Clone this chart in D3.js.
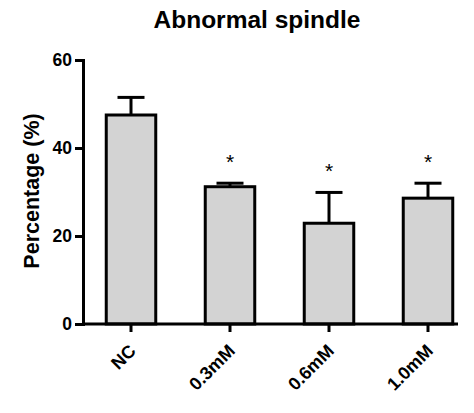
<!DOCTYPE html>
<html>
<head>
<meta charset="utf-8">
<script src="https://cdn.jsdelivr.net/npm/d3@7"></script>
<style>
  body { margin: 0; background: #fff; }
  text { font-family: "Liberation Sans", Arial, sans-serif; font-weight: bold; fill: #000; }
</style>
</head>
<body>
<div id="chart"></div>
<script>
// groups and measured values (percentage, SEM)
const groups = ["NC", "0.3mM", "0.6mM", "1.0mM"];
const means = [47.5, 31.2, 22.9, 28.6];
const errors = [4.0, 0.8, 7.0, 3.4];
const significant = [false, true, true, true];
const yTicks = [0, 20, 40, 60];

const width = 474, height = 413;

const svg = d3.select("#chart")
  .append("svg")
  .attr("width", width)
  .attr("height", height);

const x = d3.scaleBand()
  .domain(groups)
  .range([81.5, 477.5])
  .paddingInner(0.5)
  .paddingOuter(0.25);

const y = d3.scaleLinear()
  .domain([0, 60])
  .range([324, 60]);

// title
svg.append("text")
  .attr("x", 257)
  .attr("y", 28)
  .attr("text-anchor", "middle")
  .style("font-size", "24.5px")
  .text("Abnormal spindle");

// y axis label
svg.append("text")
  .attr("transform", "translate(39,191) rotate(-90)")
  .attr("text-anchor", "middle")
  .style("font-size", "21.5px")
  .text("Percentage (%)");

const bars = svg.selectAll("g.bar")
  .data(groups.map((g, i) => ({ g, m: means[i], e: errors[i], s: significant[i] })))
  .join("g")
  .attr("class", "bar");

const cx = d => x(d.g) + x.bandwidth() / 2;

// error bars (upper only)
bars.append("line")
  .attr("x1", cx)
  .attr("x2", cx)
  .attr("y1", d => y(d.m))
  .attr("y2", d => y(d.m + d.e))
  .attr("stroke", "#000")
  .attr("stroke-width", 3);

bars.append("line")
  .attr("x1", d => cx(d) - 13.5)
  .attr("x2", d => cx(d) + 13.5)
  .attr("y1", d => y(d.m + d.e))
  .attr("y2", d => y(d.m + d.e))
  .attr("stroke", "#000")
  .attr("stroke-width", 3);

bars.append("rect")
  .attr("x", d => x(d.g))
  .attr("y", d => y(d.m))
  .attr("width", x.bandwidth())
  .attr("height", d => y(0) - y(d.m))
  .attr("fill", "#d3d3d3")
  .attr("stroke", "#000")
  .attr("stroke-width", 3);

bars.filter(d => d.s)
  .append("text")
  .attr("x", cx)
  .attr("y", d => y(d.m + d.e) - 14)
  .attr("text-anchor", "middle")
  .style("font-size", "21px")
  .style("font-weight", "normal")
  .text("*");

// y axis
const yAxis = svg.append("g")
  .attr("transform", "translate(83,0)")
  .call(d3.axisLeft(y).tickValues(yTicks).tickSize(8).tickPadding(3));

yAxis.selectAll("text").style("font-size", "17.5px");

// x axis
const xAxis = svg.append("g")
  .attr("transform", "translate(0,324)")
  .call(d3.axisBottom(x).tickSize(8).tickSizeOuter(0));

xAxis.select(".domain").attr("d", "M83,0H458");

xAxis.selectAll("text")
  .style("font-size", "18px")
  .attr("text-anchor", "end")
  .attr("x", 0)
  .attr("y", 0)
  .attr("dy", 0)
  .attr("transform", "translate(6,28) rotate(-45)");

svg.selectAll(".domain, .tick line")
  .attr("stroke", "#000")
  .attr("stroke-width", 3);
</script>
</body>
</html>
